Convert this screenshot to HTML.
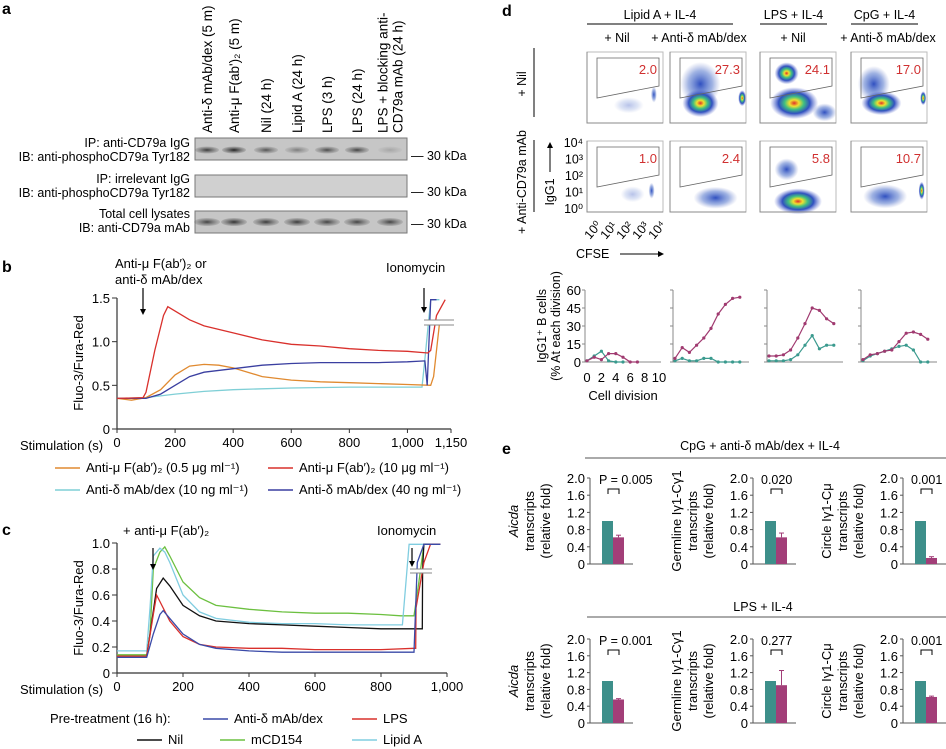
<!DOCTYPE html>
<html><head><meta charset="utf-8"><style>
body{margin:0;background:#fff}
svg{display:block;font-family:"Liberation Sans",sans-serif}
</style></head><body>
<svg id="fig" width="946" height="749" viewBox="0 0 946 749" xmlns="http://www.w3.org/2000/svg">
<defs>
<radialGradient id="dens" cx="50%" cy="50%" r="50%"><stop offset="0" stop-color="#e0302a"/><stop offset="0.2" stop-color="#f0e030"/><stop offset="0.4" stop-color="#40c080"/><stop offset="0.65" stop-color="#3050c0"/><stop offset="1" stop-color="#6070d0" stop-opacity="0"/></radialGradient>
<radialGradient id="densb" cx="50%" cy="50%" r="50%"><stop offset="0" stop-color="#3050c0"/><stop offset="0.6" stop-color="#6080d0" stop-opacity="0.6"/><stop offset="1" stop-color="#8090d0" stop-opacity="0"/></radialGradient>
<radialGradient id="band" cx="50%" cy="50%" r="50%"><stop offset="0" stop-color="#202020"/><stop offset="1" stop-color="#505050" stop-opacity="0.2"/></radialGradient>
</defs>
<g font-size="12.5">
<text x="2" y="14" font-weight="bold" font-size="16">a</text>
<g id="lanes" font-size="13.5"></g>
<rect x="195" y="138" width="212" height="22" fill="#c6c6c6" stroke="#777"/>
<rect x="195" y="175" width="212" height="22" fill="#d0d0d0" stroke="#777"/>
<rect x="195" y="211" width="212" height="22" fill="#c6c6c6" stroke="#777"/>
<g id="bands"></g>
<g text-anchor="end">
<text x="190" y="147">IP: anti-CD79a IgG</text>
<text x="190" y="161">IB: anti-phosphoCD79a Tyr182</text>
<text x="190" y="183">IP: irrelevant IgG</text>
<text x="190" y="197">IB: anti-phosphoCD79a Tyr182</text>
<text x="190" y="218">Total cell lysates</text>
<text x="190" y="232">IB: anti-CD79a mAb</text>
</g>
<text x="411" y="160">— 30 kDa</text>
<text x="411" y="196">— 30 kDa</text>
<text x="411" y="228">— 30 kDa</text>
</g>
<g id="pb" font-size="13"></g>
<g id="pc" font-size="13"></g>
<g id="pd" font-size="12.5"></g>
<g id="pe" font-size="12.5"></g>
</svg>
<script>
// ---------- data ----------
const laneLabels = ["Anti-δ mAb/dex (5 m)","Anti-μ F(ab')₂ (5 m)","Nil (24 h)","Lipid A (24 h)","LPS (3 h)","LPS (24 h)","LPS + blocking anti-|CD79a mAb (24 h)"];
const band1Intensity = [0.85,1.0,0.7,0.45,0.75,0.8,0.2];
const band3Intensity = [0.8,0.9,0.85,0.85,0.8,0.8,0.8];

const bTicks = [0,200,400,600,800,1000,1150];
const bTickLabels = ["0","200","400","600","800","1,000","1,150"];
const bYTicks = [0,0.5,1.0,1.5];
const bYTickLabels = ["0","0.5","1.0","1.5"];
const bOrangeT = [0,50,100,150,200,250,300,350,400,450,500,600,700,800,900,1000,1080,1090,1110];
const bOrangeV = [0.35,0.33,0.36,0.45,0.62,0.72,0.74,0.73,0.7,0.65,0.6,0.56,0.54,0.53,0.52,0.51,0.5,0.6,1.2];
const bRedT = [0,90,100,130,160,175,200,250,300,400,500,600,700,800,900,1000,1070,1080,1100,1130];
const bRedV = [0.35,0.36,0.42,0.9,1.3,1.4,1.35,1.25,1.18,1.1,1.02,0.97,0.95,0.92,0.9,0.89,0.87,0.9,1.3,1.48];
const bCyanT = [0,100,200,300,400,500,600,800,1000,1050,1060,1080,1110];
const bCyanV = [0.35,0.36,0.4,0.43,0.45,0.46,0.47,0.48,0.48,0.48,0.8,1.48,1.48];
const bBlueT = [0,100,150,200,250,300,400,500,600,700,800,900,1000,1060,1068,1080,1100];
const bBlueV = [0.35,0.35,0.4,0.5,0.6,0.65,0.69,0.73,0.75,0.76,0.76,0.76,0.77,0.78,0.5,1.48,1.48];

const cTicks = [0,200,400,600,800,1000];
const cTickLabels = ["0","200","400","600","800","1,000"];
const cYTicks = [0,0.2,0.4,0.6,0.8,1.0];
const cYTickLabels = ["0","0.2","0.4","0.6","0.8","1.0"];
const cGreenT = [0,90,100,110,130,145,160,200,250,300,400,500,600,700,800,860,900,915,930,980];
const cGreenV = [0.14,0.14,0.3,0.8,0.93,0.97,0.9,0.7,0.58,0.52,0.49,0.47,0.46,0.46,0.45,0.44,0.44,0.7,0.99,0.99];
const cCyanT = [0,90,100,110,130,145,160,200,250,300,400,500,600,700,800,865,885,980];
const cCyanV = [0.17,0.17,0.5,0.9,0.96,0.93,0.85,0.6,0.47,0.42,0.39,0.38,0.38,0.37,0.37,0.37,0.99,0.99];
const cBlackT = [0,90,100,120,140,160,200,250,300,400,500,600,700,800,900,925,926,930,980];
const cBlackV = [0.13,0.13,0.3,0.65,0.73,0.67,0.52,0.44,0.4,0.38,0.37,0.36,0.35,0.34,0.34,0.34,0.8,0.99,0.99];
const cRedT = [0,90,110,120,140,160,200,250,300,400,500,600,700,800,900,905,906,930,950,980];
const cRedV = [0.13,0.13,0.45,0.6,0.5,0.4,0.28,0.22,0.2,0.19,0.19,0.18,0.18,0.18,0.19,0.19,0.5,0.85,0.99,0.99];
const cBlueT = [0,90,110,130,140,160,200,250,300,400,500,600,700,800,900,910,930,980];
const cBlueV = [0.12,0.12,0.3,0.45,0.48,0.42,0.3,0.22,0.19,0.17,0.16,0.16,0.16,0.16,0.16,0.85,0.99,0.99];

const dGateValues = [["2.0","27.3","24.1","17.0"],["1.0","2.4","5.8","10.7"]];
const dDivisions = [0,1,2,3,4,5,6,7,8,9];
const dMagenta = [[1,4,2,7,7,4,0,0,null,null],[3,12,8,14,20,28,40,48,53,54],[5,5,6,10,20,32,45,43,36,32],[2,6,7,9,10,17,24,25,23,19]];
const dTeal = [[1,5,9,1,0,0,null,null,null,null],[1,3,1,1,3,3,0,0,0,0],[1,1,1,2,6,14,22,11,14,14],[1,5,7,9,11,13,14,10,0,0]];
const dYTicks = [0,15,30,45,60];

const eCtrl = [[1,1,1],[1,1,1]];
const eTreat = [[0.62,0.62,0.14],[0.56,0.9,0.62]];
const eErr = [[0.05,0.1,0.03],[0.02,0.35,0.02]];
const ePvals = [["P = 0.005","0.020","0.001"],["P = 0.001","0.277","0.001"]];
const eYTicks = [0,0.4,0.8,1.2,1.6,2.0];
const eYTickLabels = ["0","0.4","0.8","1.2","1.6","2.0"];

// ---------- helpers ----------
const NS="http://www.w3.org/2000/svg";
function mk(tag,attrs,parent){const e=document.createElementNS(NS,tag);for(const k in attrs)e.setAttribute(k,attrs[k]);parent.appendChild(e);return e;}
function txt(parent,x,y,s,attrs){const t=mk('text',Object.assign({x:x,y:y},attrs||{}),parent);t.textContent=s;return t;}

// ---------- panel a ----------
const lanes=document.getElementById('lanes'), bands=document.getElementById('bands');
const laneX=[207,234,266,297,327,357,390];
laneLabels.forEach((l,i)=>{
  const parts=l.split('|');
  parts.forEach((p,j)=>{
    const x=laneX[i]+(parts.length>1?(j-0.5)*15:0)+5;
    const t=txt(lanes,0,0,p,{transform:`translate(${x},133) rotate(-90)`});
    
    
  });
  const b=mk('ellipse',{cx:laneX[i],cy:150,rx:12,ry:3.5,fill:'url(#band)',opacity:band1Intensity[i]},bands);
  
  
  const b3=mk('ellipse',{cx:laneX[i],cy:222,rx:13,ry:4,fill:'url(#band)',opacity:band3Intensity[i]},bands);
  
  
});

// ---------- line chart helper ----------
function lineChart(g,cfg){
  const sx=v=>cfg.x0+(v-cfg.xmin)/(cfg.xmax-cfg.xmin)*(cfg.x1-cfg.x0);
  const sy=v=>cfg.y0-(v-cfg.ymin)/(cfg.ymax-cfg.ymin)*(cfg.y0-cfg.y1);
  const ax=mk('path',{d:`M${cfg.x0},${cfg.y1}V${cfg.y0}H${cfg.x1}`,stroke:'#333',fill:'none','stroke-width':1.2},g);
  
  
  cfg.xt.forEach((v,i)=>{
    mk('line',{x1:sx(v),x2:sx(v),y1:cfg.y0,y2:cfg.y0+4,stroke:'#333'},g);
    const t=txt(g,sx(v),cfg.y0+18,cfg.xl[i],{'text-anchor':'middle'});
    
    
  });
  cfg.yt.forEach((v,i)=>{
    mk('line',{x1:cfg.x0-5,x2:cfg.x0,y1:sy(v),y2:sy(v),stroke:'#333'},g);
    const t=txt(g,cfg.x0-7,sy(v)+5,cfg.yl[i],{'text-anchor':'end'});
    
    
  });
  cfg.series.forEach(s=>{
    const d=s.t.map((t,i)=>(i?'L':'M')+sx(t).toFixed(1)+','+sy(s.v[i]).toFixed(1)).join('');
    const p=mk('path',{d:d,stroke:s.c,fill:'none','stroke-width':1.3},g);
    
    
  });
  return {sx,sy};
}
function arrow(g,x,y1,y2){
  mk('line',{x1:x,x2:x,y1:y1,y2:y2-5,stroke:'#000','stroke-width':1.2},g);
  mk('path',{d:`M${x-3},${y2-6}L${x+3},${y2-6}L${x},${y2}Z`,fill:'#000'},g);
}
function legendLine(g,x,y,c,label,name){
  const l=mk('line',{x1:x,x2:x+25,y1:y-4,y2:y-4,stroke:c,'stroke-width':1.5},g);
  
  
  const t=txt(g,x+31,y,label);
  
  
}

// ---------- panel b ----------
const pb=document.getElementById('pb');
txt(pb,2,272,'b',{'font-weight':'bold','font-size':16});
lineChart(pb,{x0:117,x1:451,y0:429,y1:298,xmin:0,xmax:1150,ymin:0,ymax:1.5,xt:bTicks,xl:bTickLabels,yt:bYTicks,yl:bYTickLabels,
 series:[{t:bCyanT,v:bCyanV,c:'#7fcfd6',n:'series-anti-delta-10'},{t:bOrangeT,v:bOrangeV,c:'#e08a30',n:'series-anti-mu-0-5'},{t:bBlueT,v:bBlueV,c:'#3a3fa0',n:'series-anti-delta-40'},{t:bRedT,v:bRedV,c:'#d9302c',n:'series-anti-mu-10'}]});
mk('rect',{x:424,y:320,width:30,height:5,fill:'#fff'},pb);
mk('line',{x1:424,x2:454,y1:320,y2:320,stroke:'#888'},pb);mk('line',{x1:424,x2:454,y1:325,y2:325,stroke:'#888'},pb);
txt(pb,115,268,'Anti-μ F(ab′)₂ or');txt(pb,115,284,'anti-δ mAb/dex');
arrow(pb,143,288,315);
txt(pb,386,272,'Ionomycin');arrow(pb,424,288,313);
txt(pb,20,450,'Stimulation (s)');
const by=txt(pb,0,0,'Fluo-3/Fura-Red',{transform:'translate(83,363) rotate(-90)','text-anchor':'middle'});


legendLine(pb,55,472,'#e08a30','Anti-μ F(ab′)₂ (0.5 μg ml⁻¹)','legend-anti-mu-0-5');
legendLine(pb,268,472,'#d9302c','Anti-μ F(ab′)₂ (10 μg ml⁻¹)','legend-anti-mu-10');
legendLine(pb,55,494,'#7fcfd6','Anti-δ mAb/dex (10 ng ml⁻¹)','legend-anti-delta-10');
legendLine(pb,268,494,'#3a3fa0','Anti-δ mAb/dex (40 ng ml⁻¹)','legend-anti-delta-40');

// ---------- panel c ----------
const pc=document.getElementById('pc');
txt(pc,2,535,'c',{'font-weight':'bold','font-size':16});
lineChart(pc,{x0:117,x1:447,y0:673,y1:543,xmin:0,xmax:1000,ymin:0,ymax:1.0,xt:cTicks,xl:cTickLabels,yt:cYTicks,yl:cYTickLabels,
 series:[{t:cGreenT,v:cGreenV,c:'#6cc040',n:'series-mcd154'},{t:cCyanT,v:cCyanV,c:'#80cde0',n:'series-lipid-a'},{t:cBlackT,v:cBlackV,c:'#111',n:'series-nil'},{t:cRedT,v:cRedV,c:'#d9302c',n:'series-lps'},{t:cBlueT,v:cBlueV,c:'#3a4aa8',n:'series-anti-delta'}]});
mk('rect',{x:410,y:569,width:22,height:4,fill:'#fff'},pc);
mk('line',{x1:410,x2:432,y1:569,y2:569,stroke:'#888'},pc);mk('line',{x1:410,x2:432,y1:573,y2:573,stroke:'#888'},pc);
txt(pc,123,535,'+ anti-μ F(ab′)₂');arrow(pc,153,548,570);
txt(pc,377,535,'Ionomycin');arrow(pc,412,548,567);
txt(pc,20,694,'Stimulation (s)');
const cy=txt(pc,0,0,'Fluo-3/Fura-Red',{transform:'translate(83,608) rotate(-90)','text-anchor':'middle'});


txt(pc,50,723,'Pre-treatment (16 h):');
legendLine(pc,203,723,'#3a4aa8','Anti-δ mAb/dex','legend-anti-delta');
legendLine(pc,352,723,'#d9302c','LPS','legend-lps');
legendLine(pc,137,744,'#111','Nil','legend-nil');
legendLine(pc,220,744,'#6cc040','mCD154','legend-mcd154');
legendLine(pc,352,744,'#80cde0','Lipid A','legend-lipid-a');

// ---------- panel d ----------
const pd=document.getElementById('pd');
txt(pd,502,16,'d',{'font-weight':'bold','font-size':16});
const dHead=[[587,733,'Lipid A + IL-4'],[760,827,'LPS + IL-4'],[851,918,'CpG + IL-4']];
dHead.forEach(h=>{const t=txt(pd,(h[0]+h[1])/2,19,h[2],{'text-anchor':'middle'});mk('line',{x1:h[0],x2:h[1],y1:24,y2:24,stroke:'#000'},pd);});
[[617,'+ Nil'],[699,'+ Anti-δ mAb/dex'],[793,'+ Nil'],[888,'+ Anti-δ mAb/dex']].forEach(s=>txt(pd,s[0],42,s[1],{'text-anchor':'middle'}));
mk('line',{x1:534,x2:534,y1:48,y2:117,stroke:'#000'},pd);
mk('line',{x1:534,x2:534,y1:140,y2:212,stroke:'#000'},pd);
txt(pd,0,0,'+ Nil',{transform:'translate(526,84) rotate(-90)','text-anchor':'middle'});
txt(pd,0,0,'+ Anti-CD79a mAb',{transform:'translate(526,182) rotate(-90)','text-anchor':'middle'});
const colX=[587,670,760,851], rowY=[52,141], pw=76, ph=71;
const blobs=[
 [[[0.88,0.6,3,8,'b'],[0.55,0.75,15,8,'bb']],
  [[0.4,0.45,20,22,'b'],[0.4,0.72,18,14,'d'],[0.95,0.65,4,8,'d']],
  [[0.35,0.3,12,11,'d'],[0.45,0.72,24,16,'d'],[0.85,0.85,12,9,'b']],
  [[0.3,0.45,16,18,'b'],[0.4,0.72,20,12,'d'],[0.95,0.65,3,7,'d']]],
 [[[0.85,0.7,3,8,'b'],[0.6,0.75,12,8,'bb']],
  [[0.6,0.8,22,11,'b']],
  [[0.35,0.4,12,11,'b'],[0.5,0.85,24,13,'d']],
  [[0.45,0.78,22,12,'b'],[0.93,0.7,3,9,'d']]]];
for(let r=0;r<2;r++)for(let c=0;c<4;c++){
  const x=colX[c],y=rowY[r];
  const g=mk('g',{},pd);
  
  
  blobs[r][c].forEach(b=>mk('ellipse',{cx:x+b[0]*pw,cy:y+b[1]*ph,rx:b[2],ry:b[3],fill:b[4]==='d'?'url(#dens)':'url(#densb)',opacity:b[4]==='bb'?0.35:1},g));
  mk('rect',{x:x,y:y,width:pw,height:ph,stroke:'#bbb',fill:'none'},g);
  mk('path',{d:`M${x},${y}V${y+ph}H${x+pw}`,stroke:'#888',fill:'none'},g);
  mk('path',{d:`M${x+10},${y+6}H${x+72}V${y+34}L${x+10},${y+46}Z`,stroke:'#666',fill:'none','stroke-width':0.8},g);
  const t=txt(g,x+70,y+22,dGateValues[r][c],{'text-anchor':'end',fill:'#d03030','font-size':13});
  
  
}
['10⁴','10³','10²','10¹','10⁰'].forEach((s,i)=>txt(pd,583,147+i*16.5,s,{'text-anchor':'end'}));
txt(pd,0,0,'IgG1',{transform:'translate(554,192) rotate(-90)','text-anchor':'middle'});
mk('line',{x1:550,x2:550,y1:172,y2:145,stroke:'#000'},pd);mk('path',{d:'M547,148L553,148L550,142Z'},pd);
['10⁰','10¹','10²','10³','10⁴'].forEach((s,i)=>txt(pd,0,0,s,{transform:`translate(${590+i*16},240) rotate(-50)`}));
txt(pd,576,258,'CFSE');mk('line',{x1:620,x2:660,y1:254,y2:254,stroke:'#000'},pd);mk('path',{d:'M658,251L664,254L658,257Z'},pd);
// line plots
const lpX=[587,675,769,863], lpY0=362, lpY1=290, dxs=7.2;
dMagenta.forEach((ser,k)=>{
  const g=mk('g',{},pd);
  
  
  const x0=lpX[k], sy=v=>lpY0-v/60*(lpY0-lpY1), sx=i=>x0+dDivisions[i]*dxs;
  mk('path',{d:`M${x0-2},${lpY1}V${lpY0}H${x0+74}`,stroke:'#888',fill:'none'},g);
  dYTicks.forEach(v=>{mk('line',{x1:x0-5,x2:x0-2,y1:sy(v),y2:sy(v),stroke:'#888'},g);if(k===0)txt(g,x0-6,sy(v)+5,String(v),{'text-anchor':'end','font-size':13});});
  [[dTeal[k],'#3a9a8e','teal-series'],[ser,'#a03a70','magenta-series']].forEach(([arr,col,nm])=>{
    let d='';arr.forEach((v,i)=>{if(v===null)return;d+=(d?'L':'M')+sx(i)+','+sy(v);});
    const p=mk('path',{d:d,stroke:col,fill:'none','stroke-width':1.2},g);
    
    
    arr.forEach((v,i)=>{if(v===null)return;mk('circle',{cx:sx(i),cy:sy(v),r:1.6,fill:col},g);});
  });
});
['0','2','4','6','8','10'].forEach((s,i)=>txt(pd,587+i*14.4,382,s,{'text-anchor':'middle','font-size':13}));
txt(pd,623,400,'Cell division',{'text-anchor':'middle','font-size':13});
txt(pd,0,0,'IgG1⁺ B cells',{transform:'translate(546,326) rotate(-90)','text-anchor':'middle'});
txt(pd,0,0,'(% At each division)',{transform:'translate(560,326) rotate(-90)','text-anchor':'middle'});

// ---------- panel e ----------
const pe=document.getElementById('pe');
txt(pe,502,454,'e',{'font-weight':'bold','font-size':16});
txt(pe,760,450,'CpG + anti-δ mAb/dex + IL-4',{'text-anchor':'middle'});mk('line',{x1:585,x2:946,y1:458,y2:458,stroke:'#555'},pe);
txt(pe,763,611,'LPS + IL-4',{'text-anchor':'middle'});mk('line',{x1:587,x2:946,y1:617,y2:617,stroke:'#555'},pe);
const eAxX=[590,753,903], eRowY=[[564,478],[723,639]];
const eLab=[['Aicda','transcripts','(relative fold)'],['Germline Iγ1-Cγ1','transcripts','(relative fold)'],['Circle Iγ1-Cμ','transcripts','(relative fold)']];
for(let r=0;r<2;r++)for(let c=0;c<3;c++){
  const g=mk('g',{},pe);
  
  
  const ax=eAxX[c], y0=eRowY[r][0], y1=eRowY[r][1], sy=v=>y0-v/2*(y0-y1);
  mk('path',{d:`M${ax},${y1}V${y0}H${ax+43}`,stroke:'#555',fill:'none'},g);
  eYTicks.forEach((v,i)=>{mk('line',{x1:ax-3,x2:ax,y1:sy(v),y2:sy(v),stroke:'#555'},g);txt(g,ax-5,sy(v)+5,eYTickLabels[i],{'text-anchor':'end','font-size':13});});
  const bx=ax+12;
  const b1=mk('rect',{x:bx,y:sy(eCtrl[r][c]),width:11,height:y0-sy(eCtrl[r][c]),fill:'#3d8f8a'},g);
  
  
  const b2=mk('rect',{x:bx+11,y:sy(eTreat[r][c]),width:11,height:y0-sy(eTreat[r][c]),fill:'#a23e78'},g);
  
  
  const ey=sy(eTreat[r][c]+eErr[r][c]);
  mk('line',{x1:bx+16.5,x2:bx+16.5,y1:sy(eTreat[r][c]),y2:ey,stroke:'#a23e78'},g);
  mk('line',{x1:bx+14,x2:bx+19,y1:ey,y2:ey,stroke:'#a23e78'},g);
  mk('path',{d:`M${bx+6},${y1+16}V${y1+11}H${bx+17}V${y1+16}`,stroke:'#000',fill:'none'},g);
  const p=txt(g,bx+(c===0?-3:-4),y1+6,ePvals[r][c]);
  
  
  const base=[ax-72,ax-56,ax-40];
  eLab[c].forEach((s,j)=>{
    const t=txt(g,0,0,s,{transform:`translate(${base[j]},${(y0+y1)/2}) rotate(-90)`,'text-anchor':'middle','font-size':13,'font-style':j===0&&c===0?'italic':'normal'});
    
    
  });
}
</script>
</body></html>
